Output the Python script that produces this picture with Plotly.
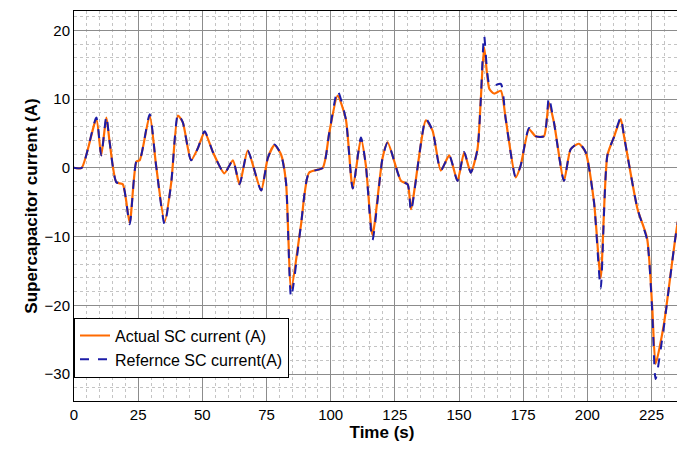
import plotly.graph_objects as go

# time axis and the two current traces
time_s = [0, 3, 8.7, 10.6, 12.6, 13.9, 16.5, 19, 21.7, 24.3, 25.6, 29.5, 32, 35.3, 37.9, 40.5,
          42.4, 45.6, 48.2, 50.9, 54.1, 58.6, 61.9, 64.5, 67.7, 72.9, 75.5, 78.1, 80.7, 82.6,
          84.6, 88.4, 91.6, 96.9, 99.5, 102.7, 105.9, 108.6, 111.8, 113.7, 116.3, 120.2, 122.2,
          127.4, 130, 131.3, 137.1, 139.7, 142.9, 146.2, 149.4, 152, 154.6, 157.2, 158.5, 159.8,
          161.8, 163.7, 166.3, 168.2, 172.1, 174, 177.3, 179.8, 183.1, 185, 187, 190.9, 193.5,
          196.7, 199.3, 202.6, 205.2, 207.8, 210.4, 213, 214.3, 219.5, 223.3, 225.3, 226.6,
          229.8, 235, 239.6]
actual_a = [0, 0, 7.1, 1.8, 7.3, 3.7, -2.1, -2.4, -8.0, 0.9, 1.1, 7.6, 0.3, -7.9, -2.1, 7.6,
            6.6, 1.1, 2.8, 5.2, 2.3, -0.8, 1.1, -2.4, 2.5, -3.3, 1.4, 3.3, 1.9, -2.1,
            -17.5, -8.4, -0.7, 0, 5.2, 10.5, 7.1, -3, 4.3, 0.4, -9.8, 1.4, 3.7,
            -1.9, -2.4, -6.0, 6.9, 5.4, -0.4, 1.8, -1.9, 2.2, -0.7, 2.7, 10.0, 17.5,
            11.5, 10.8, 11.2, 7.1, -1.4, 0.3, 5.6, 4.6, 4.6, 9.5, 6.6, -1.9, 2.7,
            3.5, 2.3, -5, -16.0, 1.8, 4.5, 7.1, 4.6, -5.9, -10.3, -20.4, -28.5,
            -22.8, -8.4, -0.1]
reference_a = [0, 0, 7.3, 1.8, 7.5, 3.7, -2.1, -2.4, -8.2, 0.9, 1.1, 7.8, 0.3, -8.2, -2.1, 7.8,
               6.6, 1.1, 2.8, 5.3, 2.3, -0.8, 1.1, -2.4, 2.5, -3.3, 1.4, 3.4, 1.9, -2.1,
               -18.8, -8.4, -0.7, 0, 5.2, 11.2, 7.1, -3, 4.4, 0.4, -10.5, 1.4, 3.7,
               -1.9, -2.4, -6.3, 7.1, 5.4, -0.4, 1.8, -1.9, 2.3, -0.7, 2.7, 10.0, 19.2,
               12.2, 12.0, 12.2, 7.1, -1.4, 0.3, 5.8, 4.6, 4.6, 10.2, 6.6, -1.9, 2.7,
               3.6, 2.3, -5, -17.5, 1.8, 4.5, 7.3, 4.6, -5.9, -10.5, -21.0, -30.7,
               -23.2, -8.4, -0.1]

fig = go.Figure()
fig.add_trace(go.Scatter(x=time_s, y=actual_a, mode="lines", name="Actual SC current (A)",
                         line=dict(color="#ff6a00", width=2.2, shape="spline", smoothing=0.6)))
fig.add_trace(go.Scatter(x=time_s, y=reference_a, mode="lines", name="Refernce SC current(A)",
                         line=dict(color="#1c1ca8", width=2, dash="dash", shape="spline", smoothing=0.6)))

grid = dict(showgrid=True, gridcolor="#8c8c8c", gridwidth=1, showline=True, linecolor="black",
            mirror=True, ticks="", zeroline=False, automargin=False,
            tickfont=dict(size=15, color="black"))
fig.update_xaxes(range=[0, 240], dtick=25, tick0=0,
                 minor=dict(dtick=5, showgrid=True, gridcolor="#c4c4c4", griddash="dot"),
                 title=dict(text="<b>Time (s)</b>", font=dict(size=17, color="black"), standoff=4), **grid)
fig.update_yaxes(range=[-33.9, 22.8], dtick=10, tick0=0,
                 minor=dict(dtick=2, showgrid=True, gridcolor="#c4c4c4", griddash="dot"),
                 title=dict(text="<b>Supercapacitor current (A)</b>", font=dict(size=17, color="black"), standoff=2),
                 **grid)
fig.update_layout(
    width=685, height=461, margin=dict(l=66, r=3, t=3, b=68),
    plot_bgcolor="white", paper_bgcolor="white",
    font=dict(family="Liberation Sans, Arial", color="black"),
    legend=dict(x=0, y=0.06, xanchor="left", yanchor="bottom", bgcolor="white",
                bordercolor="black", borderwidth=1, font=dict(size=16), tracegroupgap=4),
)
fig.write_html("out.html")
